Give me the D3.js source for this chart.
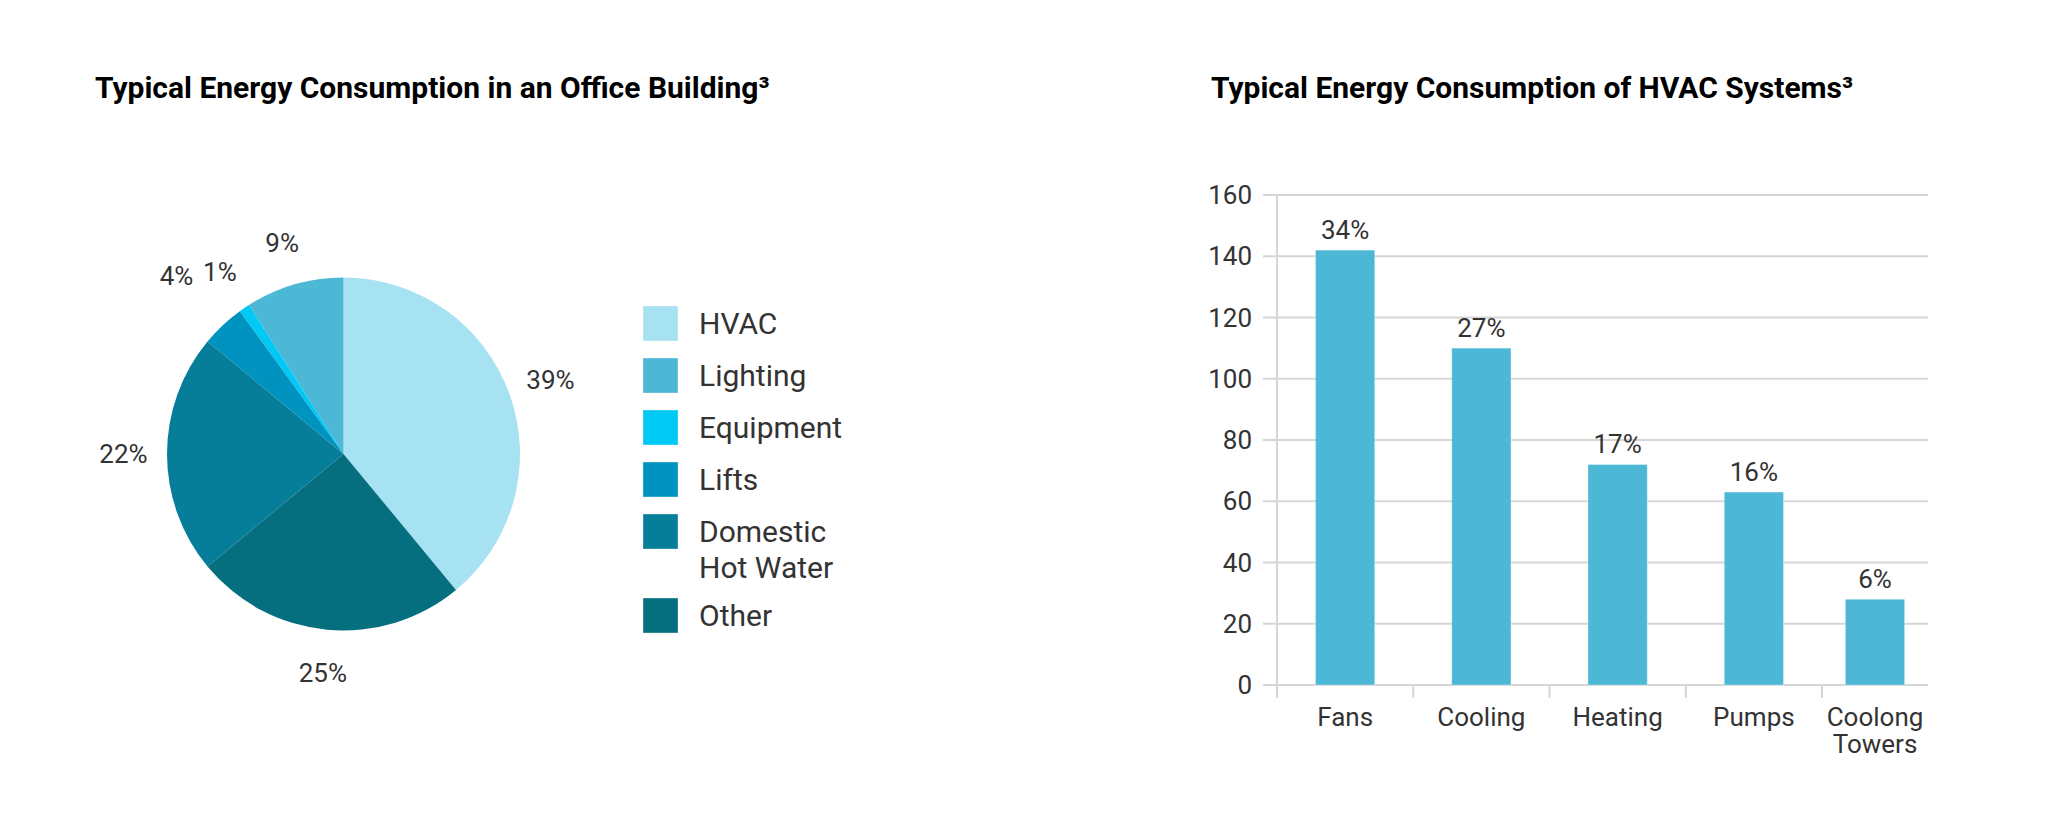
<!DOCTYPE html>
<html>
<head>
<meta charset="utf-8">
<script src="https://cdn.jsdelivr.net/npm/d3@7"></script>
<style>
  body { margin: 0; background: #fff; }
  text { font-family: Roboto, "Noto Sans", sans-serif; }
</style>
</head>
<body>
<div id="chart"></div>
<script>
const width = 2048, height = 823;

const pieCategories = ["HVAC", "Lighting", "Equipment", "Lifts", "Domestic Hot Water", "Other"];
const pieValues = [39, 9, 1, 4, 22, 25];
const pieLabels = ["39%", "9%", "1%", "4%", "22%", "25%"];
const legendLines = [["HVAC"], ["Lighting"], ["Equipment"], ["Lifts"], ["Domestic", "Hot Water"], ["Other"]];
const pieColors = ["#a7e2f2", "#4cb8d6", "#00c9f5", "#0193bf", "#067e9a", "#056f7f"];

const barCategories = ["Fans", "Cooling", "Heating", "Pumps", "Coolong Towers"];
const barValues = [142, 110, 72, 63, 28];
const barLabels = ["34%", "27%", "17%", "16%", "6%"];
const barColor = "#4cb8d6";

const textColor = "#333333", gridColor = "#d6d6d6";

const svg = d3.select("#chart")
  .append("svg")
  .attr("width", width)
  .attr("height", height);

// titles
svg.append("text")
  .attr("x", 95).attr("y", 98)
  .attr("font-size", 30).attr("font-weight", 700).attr("fill", "#000")
  .text("Typical Energy Consumption in an Office Building\u00b3");

svg.append("text")
  .attr("x", 1211).attr("y", 98)
  .attr("font-size", 30).attr("font-weight", 700).attr("fill", "#000")
  .text("Typical Energy Consumption of HVAC Systems\u00b3");

// ---- pie ----
const cx = 343.5, cy = 454, radius = 176.5;
const total = d3.sum(pieValues);
const startA = 2 * Math.PI * pieValues[0] / total;

const pie = d3.pie().sort(null).value(d => d)
  .startAngle(startA)
  .endAngle(startA - 2 * Math.PI);
const arcs = pie(pieValues);

const arc = d3.arc().innerRadius(0).outerRadius(radius);

const pieG = svg.append("g").attr("transform", `translate(${cx},${cy})`);

pieG.selectAll("path")
  .data(arcs)
  .join("path")
  .attr("d", arc)
  .attr("fill", (d, i) => pieColors[i]);

// labels outside, pushed outward if they collide
const placed = [];
const labelR = 220, boxW = 40, boxH = 22;
arcs.forEach((d, i) => {
  const mid = (d.startAngle + d.endAngle) / 2;
  let r = labelR, lx, ly;
  for (let k = 0; k < 6; k++) {
    lx = Math.sin(mid) * r;
    ly = -Math.cos(mid) * r;
    const hit = placed.some(p => Math.abs(p.x - lx) < boxW && Math.abs(p.y - ly) < boxH + 4);
    if (!hit) break;
    r += 24;
  }
  placed.push({x: lx, y: ly});
  pieG.append("text")
    .attr("x", lx).attr("y", ly)
    .attr("dy", "0.35em")
    .attr("text-anchor", "middle")
    .attr("font-size", 26)
    .attr("fill", textColor)
    .text(pieLabels[i]);
});

// legend
const legendX = 643, legendY = 306, sw = 35, rowStep = 52, extraLine = 32, lineH = 36;
let ly = legendY;
legendLines.forEach((lines, i) => {
  const g = svg.append("g").attr("transform", `translate(${legendX},${ly})`);
  g.append("rect")
    .attr("width", sw).attr("height", sw)
    .attr("fill", pieColors[i])
    .attr("stroke", "rgba(255,255,255,0.35)").attr("stroke-width", 1);
  const t = g.append("text")
    .attr("x", 56).attr("y", sw / 2)
    .attr("font-size", 30)
    .attr("fill", textColor);
  lines.forEach((s, j) => {
    t.append("tspan").attr("x", 56).attr("dy", j === 0 ? "0.35em" : lineH).text(s);
  });
  ly += rowStep + extraLine * (lines.length - 1);
});

// ---- bars ----
const plotLeft = 1277, plotRight = 1928, step = 136.25;
const y = d3.scaleLinear().domain([0, 160]).range([685, 195]);
const x = d3.scaleBand()
  .domain(barCategories)
  .range([plotLeft, plotLeft + step * barCategories.length])
  .padding(0);
const barW = x.bandwidth() * 0.435;
// band centre, with the last band cut off at the plot edge
const bandMid = d => (x(d) + Math.min(x(d) + x.bandwidth(), plotRight)) / 2;

const yTicks = y.ticks(8);

svg.append("g")
  .selectAll("line")
  .data(yTicks)
  .join("line")
  .attr("x1", plotLeft - 14).attr("x2", plotRight)
  .attr("y1", d => y(d)).attr("y2", d => y(d))
  .attr("stroke", gridColor).attr("stroke-width", 2);

svg.append("line")
  .attr("x1", plotLeft).attr("x2", plotLeft)
  .attr("y1", y(160)).attr("y2", y(0) + 13)
  .attr("stroke", gridColor).attr("stroke-width", 2);

svg.append("g")
  .selectAll("line")
  .data(barCategories.slice(1))
  .join("line")
  .attr("x1", d => x(d)).attr("x2", d => x(d))
  .attr("y1", y(0)).attr("y2", y(0) + 13)
  .attr("stroke", gridColor).attr("stroke-width", 2);

svg.append("g")
  .selectAll("text")
  .data(yTicks)
  .join("text")
  .attr("x", plotLeft - 25)
  .attr("y", d => y(d))
  .attr("dy", "0.35em")
  .attr("text-anchor", "end")
  .attr("font-size", 26)
  .attr("fill", textColor)
  .text(d => d);

svg.append("g")
  .selectAll("rect")
  .data(barValues)
  .join("rect")
  .attr("x", (d, i) => bandMid(barCategories[i]) - barW / 2)
  .attr("y", d => y(d))
  .attr("width", barW)
  .attr("height", d => y(0) - y(d))
  .attr("fill", barColor)
  .attr("stroke", "rgba(255,255,255,0.35)").attr("stroke-width", 1);

svg.append("g")
  .selectAll("text")
  .data(barValues)
  .join("text")
  .attr("x", (d, i) => bandMid(barCategories[i]))
  .attr("y", d => y(d) - 11.5)
  .attr("text-anchor", "middle")
  .attr("font-size", 26)
  .attr("fill", textColor)
  .text((d, i) => barLabels[i]);

const xl = svg.append("g")
  .selectAll("text")
  .data(barCategories)
  .join("text")
  .attr("x", d => bandMid(d))
  .attr("y", 726)
  .attr("text-anchor", "middle")
  .attr("font-size", 26)
  .attr("fill", textColor);

xl.each(function(d) {
  const words = d.split(" ");
  const t = d3.select(this);
  words.forEach((w, j) => {
    t.append("tspan")
      .attr("x", t.attr("x"))
      .attr("dy", j === 0 ? 0 : 27)
      .text(w);
  });
});
</script>
</body>
</html>
